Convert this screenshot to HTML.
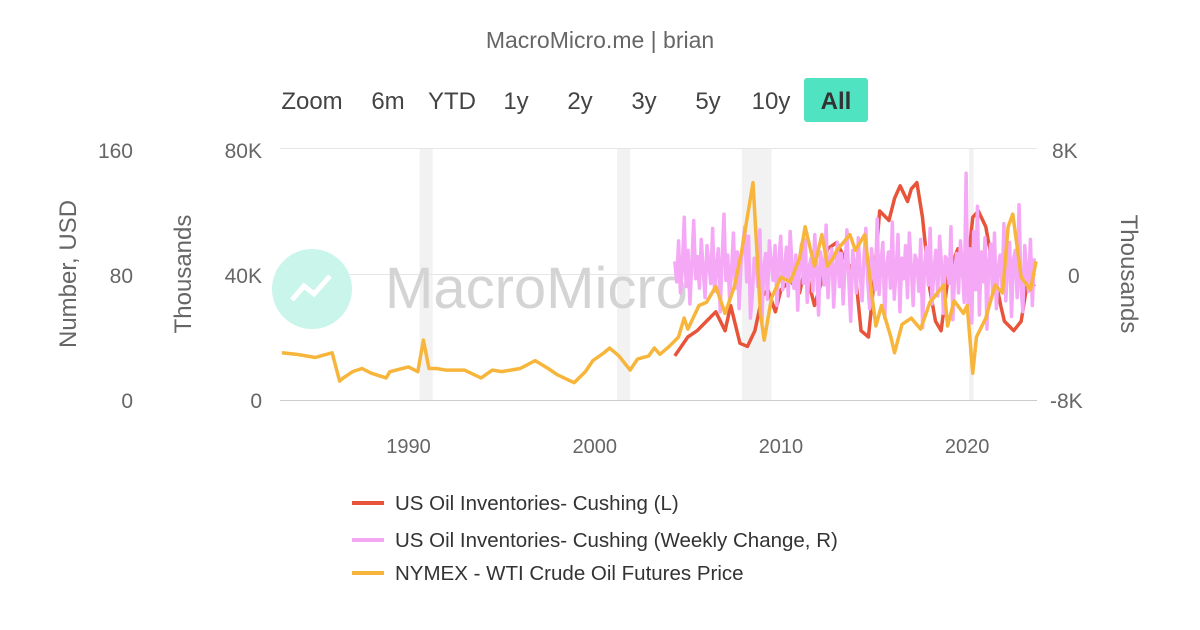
<!DOCTYPE html>
<html><head><meta charset="utf-8">
<style>
body{margin:0;background:#fff;font-family:"Liberation Sans",Arial,sans-serif;}
svg{display:block}
</style></head>
<body>
<svg id="chart" width="1200" height="630" xmlns="http://www.w3.org/2000/svg" font-family="Liberation Sans, Arial, sans-serif">
  <text x="600" y="48" text-anchor="middle" font-size="23" fill="#666">MacroMicro.me | brian</text>
  <g font-size="24" fill="#444" text-anchor="middle">
    <text x="312" y="109">Zoom</text>
    <text x="388" y="109">6m</text>
    <text x="452" y="109">YTD</text>
    <text x="516" y="109">1y</text>
    <text x="580" y="109">2y</text>
    <text x="644" y="109">3y</text>
    <text x="708" y="109">5y</text>
    <text x="771" y="109">10y</text>
    <rect x="804" y="78" width="64" height="44" rx="3" fill="#4fe3c1"/>
    <text x="836" y="109" font-weight="bold" fill="#333">All</text>
  </g>
  <g id="bands"></g>
  <g stroke="#e6e6e6" stroke-width="1">
    <line x1="280" x2="1037" y1="148.5" y2="148.5"/>
    <line x1="280" x2="1037" y1="274.5" y2="274.5"/>
  </g>
  <line x1="280" x2="1037" y1="400.5" y2="400.5" stroke="#ccc"/>
  <g>
    <circle cx="312" cy="289" r="40" fill="#c9f5ea"/>
    <polyline points="292,300 304,286 314,294 330,276" fill="none" stroke="#fff" stroke-width="5"/>
    <text x="385" y="308" font-size="58" fill="#d4d4d4">MacroMicro</text>
  </g>
  <g font-size="21" fill="#666" text-anchor="end">
    <text x="133" y="158">160</text><text x="133" y="283">80</text><text x="133" y="408">0</text>
  </g>
  <g font-size="21" fill="#666" text-anchor="end">
    <text x="262" y="158">80K</text><text x="262" y="283">40K</text><text x="262" y="408">0</text>
  </g>
  <g font-size="21" fill="#666" text-anchor="start">
    <text x="1052" y="158">8K</text><text x="1068" y="283">0</text><text x="1050" y="408">-8K</text>
  </g>
  <text transform="translate(76,274) rotate(-90)" text-anchor="middle" font-size="24" fill="#666">Number, USD</text>
  <text transform="translate(191,274) rotate(-90)" text-anchor="middle" font-size="24" fill="#666">Thousands</text>
  <text transform="translate(1121,274) rotate(90)" text-anchor="middle" font-size="24" fill="#666">Thousands</text>
  <g id="xaxis" font-size="20" fill="#666" text-anchor="middle"></g>
  <g id="series"></g>
  <g font-size="20.5" fill="#333">
    <g><line x1="352" x2="384" y1="503" y2="503" stroke="#e8543a" stroke-width="4"/><text x="395" y="510">US Oil Inventories- Cushing (L)</text></g>
    <g><line x1="352" x2="384" y1="540" y2="540" stroke="#f4a8f4" stroke-width="4"/><text x="395" y="547">US Oil Inventories- Cushing (Weekly Change, R)</text></g>
    <g><line x1="352" x2="384" y1="573" y2="573" stroke="#f7b53b" stroke-width="4"/><text x="395" y="580">NYMEX - WTI Crude Oil Futures Price</text></g>
  </g>
</svg>
<script>
const xTicks=[1990,2000,2010,2020];
const recessions=[[1990.6,1991.3],[2001.2,2001.9],[2007.9,2009.5],[2020.1,2020.35]];
const wtiDates=[1983.2,1984,1985,1985.9,1986.3,1986.5,1987,1987.5,1988,1988.8,1989,1990,1990.5,1990.8,1991.1,1991.5,1992,1993,1993.9,1994.5,1995,1996,1996.8,1997.5,1998,1998.9,1999.5,1999.9,2000.5,2000.8,2001.3,2001.9,2002.3,2002.9,2003.2,2003.5,2004,2004.5,2004.8,2005,2005.6,2006,2006.5,2007,2007.5,2007.9,2008.5,2008.9,2009.1,2009.5,2010,2010.5,2011,2011.3,2011.8,2012.2,2012.5,2012.8,2013,2013.7,2014,2014.5,2014.9,2015.1,2015.4,2015.9,2016.1,2016.5,2017,2017.5,2018,2018.75,2018.95,2019.3,2019.8,2020,2020.3,2020.5,2021,2021.5,2021.9,2022.2,2022.45,2022.9,2023.4,2023.7];
const wtiValues=[30,29,27,30,12,14,18,20,17,14,18,21,18,38,20,20,19,19,14,19,18,20,25,20,16,11,18,25,30,33,28,19,26,28,33,29,34,40,52,45,60,62,72,55,72,95,138,55,38,65,78,75,90,110,85,105,85,90,95,105,95,105,65,47,60,40,30,48,52,45,62,73,47,63,55,60,17,40,52,73,68,110,118,78,70,88];
const invDates=[2004.3,2005,2005.5,2006,2006.5,2007,2007.3,2007.8,2008.2,2008.6,2009,2009.3,2009.7,2010,2010.5,2011,2011.3,2011.8,2012.2,2012.5,2013,2013.5,2014,2014.3,2014.7,2015,2015.3,2015.8,2016.1,2016.4,2016.8,2017,2017.3,2017.6,2018,2018.3,2018.6,2019,2019.5,2019.9,2020.3,2020.6,2021,2021.3,2021.8,2022,2022.5,2022.9,2023.3,2023.6];
const invValues=[14,20,22,25,28,22,30,18,17,22,33,35,28,35,38,34,42,30,38,48,50,44,40,22,20,38,60,57,64,68,63,67,69,58,35,25,22,40,48,35,58,60,55,45,30,25,22,25,40,36];
const wkStart=2004.3, wkEnd=2023.6;
const wkValues=[0.8,-0.5,2.1,-1.2,0.4,3.6,-0.8,1.5,-1.9,0.6,3.4,-0.3,1.1,-0.9,2.2,0.3,-1.5,1.8,0.7,-0.6,2.9,-1.1,0.5,1.6,-2.4,0.9,3.8,-0.4,1.2,-1.7,0.2,2.6,-0.9,1.4,-2.2,0.6,1.9,3.0,-0.5,2.4,-2.8,-1.3,1.0,0.5,-0.8,2.8,-3.2,0.4,1.3,-1.6,2.1,0.7,-0.4,1.8,-2.0,0.9,2.4,-1.0,0.3,1.7,-1.4,2.7,0.5,-0.9,1.2,-2.3,0.8,1.9,-0.6,2.2,-1.8,0.4,1.0,-1.1,2.5,0.2,-2.6,1.4,0.6,-0.7,3.1,-1.5,0.9,1.6,-2.1,0.3,2.0,-0.8,1.3,-1.9,0.5,2.8,-0.4,-3.0,1.5,0.7,-1.2,2.3,0.1,-1.7,1.1,2.9,-0.5,-2.2,1.6,0.4,-1.0,3.5,-1.3,0.8,2.0,-2.8,0.6,1.4,-0.9,3.3,-1.6,0.2,2.5,-2.4,1.0,-0.3,1.8,-1.5,2.6,0.4,-2.0,1.2,0.8,-1.1,2.2,-3.4,0.5,1.7,-0.7,2.9,-1.9,0.3,1.5,-1.4,2.4,0.6,-2.5,1.1,0.9,-0.6,3.0,-2.9,0.2,1.3,-1.2,2.1,0.5,-1.8,6.4,-2.0,1.6,-3.1,2.7,-1.0,4.3,-2.6,1.4,-0.5,2.3,-3.5,0.8,1.9,-1.3,2.6,-2.2,0.4,1.2,-0.9,3.2,-1.7,0.6,2.0,-2.7,0.9,1.5,-1.5,4.4,-0.8,-2.4,1.8,0.3,-1.1,2.2,-2.0,1.0];

const X0=280,X1=1037,T0=1983.1,T1=2023.75,YB=400,YT=148;
const xs=t=>X0+(t-T0)/(T1-T0)*(X1-X0);
const yUSD=v=>YB-v/160*(YB-YT);
const yInv=v=>YB-v/80*(YB-YT);
const yWk=v=>274-v/8*(274-YT);
const NS='http://www.w3.org/2000/svg';
function mk(tag,attrs,parent){const e=document.createElementNS(NS,tag);for(const k in attrs)e.setAttribute(k,attrs[k]);parent.appendChild(e);return e;}

const bands=document.getElementById('bands');
recessions.forEach(r=>{
  const e=mk('rect',{x:xs(r[0]),y:YT,width:xs(r[1])-xs(r[0]),height:YB-YT,fill:'#f2f2f2'},bands);
  
  
});
const xa=document.getElementById('xaxis');
xTicks.forEach(t=>{
  const e=mk('text',{x:xs(t),y:453},xa);e.textContent=t;
  
  
});
const s=document.getElementById('series');
const inv=mk('polyline',{points:invDates.map((d,i)=>xs(d)+','+yInv(invValues[i])).join(' '),fill:'none',stroke:'#e8543a','stroke-width':3.5,'stroke-linejoin':'round'},s);


const step=(wkEnd-wkStart)/(wkValues.length-1);
const wk=mk('polyline',{points:wkValues.map((v,i)=>xs(wkStart+i*step)+','+yWk(v)).join(' '),fill:'none',stroke:'#f5a8f5','stroke-width':3.5,'stroke-linejoin':'round'},s);


const wti=mk('polyline',{points:wtiDates.map((d,i)=>xs(d)+','+yUSD(wtiValues[i])).join(' '),fill:'none',stroke:'#f7b53b','stroke-width':3.5,'stroke-linejoin':'round'},s);


</script>
</body></html>
